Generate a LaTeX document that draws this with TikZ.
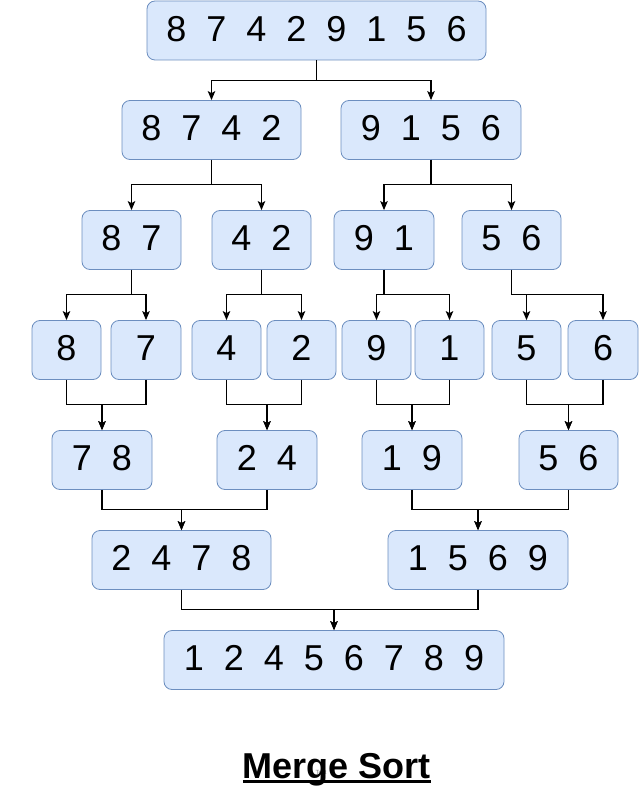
\documentclass[tikz,border=0pt]{standalone}
\usepackage{fontspec}
\setmainfont{Liberation Sans}
\usetikzlibrary{arrows.meta}
\definecolor{boxfill}{HTML}{DAE8FC}
\definecolor{boxline}{HTML}{6C8EBF}
\begin{document}
\begin{tikzpicture}[x=1pt,y=-1pt,
  box/.style={draw=boxline, fill=boxfill, rounded corners=8pt, line width=0.8pt,
    minimum height=59pt, inner sep=0pt, text depth=4pt, font=\fontsize{36}{42}\selectfont},
  arr/.style={draw=black, line width=1.1pt, -{Stealth[length=9pt,width=7.5pt,inset=2pt]}}]
\useasboundingbox (0,0) rectangle (642,791);
% level 0
\node[box, minimum width=339pt] (a) at (316.5,30.5) {8~~7~~4~~2~~9~~1~~5~~6};
% level 1
\node[box, minimum width=179pt] (b1) at (211.5,130) {8~~7~~4~~2};
\node[box, minimum width=180pt] (b2) at (431,130) {9~~1~~5~~6};
% level 2
\node[box, minimum width=99pt] (c1) at (131.5,240) {8~~7};
\node[box, minimum width=99pt] (c2) at (261.5,240) {4~~2};
\node[box, minimum width=100pt] (c3) at (384,240) {9~~1};
\node[box, minimum width=99pt] (c4) at (511.5,240) {5~~6};
% level 3
\node[box, minimum width=69pt] (d1) at (66.5,350) {8};
\node[box, minimum width=70pt] (d2) at (146,350) {7};
\node[box, minimum width=69pt] (d3) at (226.5,350) {4};
\node[box, minimum width=69pt] (d4) at (301.5,350) {2};
\node[box, minimum width=69pt] (d5) at (376.5,350) {9};
\node[box, minimum width=69pt] (d6) at (449.5,350) {1};
\node[box, minimum width=69pt] (d7) at (526.5,350) {5};
\node[box, minimum width=70pt] (d8) at (603,350) {6};
% level 4
\node[box, minimum width=100pt] (e1) at (102,460) {7~~8};
\node[box, minimum width=100pt] (e2) at (267,460) {2~~4};
\node[box, minimum width=100pt] (e3) at (412,460) {1~~9};
\node[box, minimum width=99pt] (e4) at (568.5,460) {5~~6};
% level 5
\node[box, minimum width=179pt] (f1) at (181.5,560) {2~~4~~7~~8};
\node[box, minimum width=180pt] (f2) at (478,560) {1~~5~~6~~9};
% level 6
\node[box, minimum width=340pt] (g) at (334,660) {1~~2~~4~~5~~6~~7~~8~~9};
% split connectors
\draw[arr] (a.south) -- ++(0,20) -| (b1.north);
\draw[arr] (a.south) -- ++(0,20) -| (b2.north);
\draw[arr] (b1.south) -- ++(0,25) -| (c1.north);
\draw[arr] (b1.south) -- ++(0,25) -| (c2.north);
\draw[arr] (b2.south) -- ++(0,25) -| (c3.north);
\draw[arr] (b2.south) -- ++(0,25) -| (c4.north);
\draw[arr] (c1.south) -- ++(0,25) -| (d1.north);
\draw[arr] (c1.south) -- ++(0,25) -| (d2.north);
\draw[arr] (c2.south) -- ++(0,25) -| (d3.north);
\draw[arr] (c2.south) -- ++(0,25) -| (d4.north);
\draw[arr] (c3.south) -- ++(0,25) -| (d5.north);
\draw[arr] (c3.south) -- ++(0,25) -| (d6.north);
\draw[arr] (c4.south) -- ++(0,25) -| (d7.north);
\draw[arr] (c4.south) -- ++(0,25) -| (d8.north);
% merge connectors
\draw[arr] (d1.south) -- ++(0,25) -| (e1.north);
\draw[arr] (d2.south) -- ++(0,25) -| (e1.north);
\draw[arr] (d3.south) -- ++(0,25) -| (e2.north);
\draw[arr] (d4.south) -- ++(0,25) -| (e2.north);
\draw[arr] (d5.south) -- ++(0,25) -| (e3.north);
\draw[arr] (d6.south) -- ++(0,25) -| (e3.north);
\draw[arr] (d7.south) -- ++(0,25) -| (e4.north);
\draw[arr] (d8.south) -- ++(0,25) -| (e4.north);
\draw[arr] (e1.south) -- ++(0,20) -| (f1.north);
\draw[arr] (e2.south) -- ++(0,20) -| (f1.north);
\draw[arr] (e3.south) -- ++(0,20) -| (f2.north);
\draw[arr] (e4.south) -- ++(0,20) -| (f2.north);
\draw[arr] (f1.south) -- ++(0,20) -| (g.north);
\draw[arr] (f2.south) -- ++(0,20) -| (g.north);
% title
\node[font=\fontsize{6}{7}\selectfont, text=gray, inner sep=0pt] (tx) at (321,772) {Text};
\node[inner sep=0pt, anchor=base, font=\bfseries\fontsize{36}{42}\selectfont] (title) at (337,778) {Merge Sort};
\draw[line width=2.5pt] ([yshift=-3.5pt]title.base west) -- ([yshift=-3.5pt]title.base east);
\end{tikzpicture}
\end{document}
